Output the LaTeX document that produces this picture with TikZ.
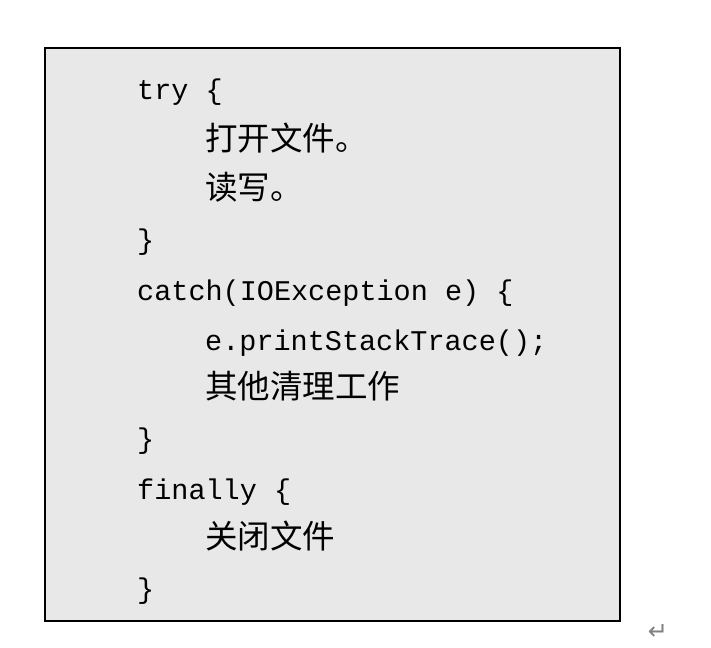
\documentclass[tikz,border=0pt]{standalone}
\usepackage{fontspec}
\setmonofont{Liberation Mono}
\newfontfamily\cjk{Noto Sans CJK SC}
\newfontfamily\dejavu{DejaVu Sans}
\begin{document}
\begin{tikzpicture}[x=1pt,y=-1pt,
  code/.style={anchor=base west,inner sep=0pt,font=\ttfamily\fontsize{28.5}{30}\selectfont},
  cjkt/.style={anchor=base west,inner sep=0pt,font=\cjk\fontsize{32.5}{34}\selectfont}]
\useasboundingbox (0,0) rectangle (711,647);
\draw[fill=black!9,line width=1.5pt] (45,48) rectangle (620,621);
\node[code] (l1) at (137,100) {try \{};
\node[cjkt] (l2) at (205,150) {打开文件。};
\node[cjkt] (l3) at (205,199) {读写。};
\node[code] (l4) at (137,249) {\}};
\node[code] (l5) at (137,300) {catch(IOException e) \{};
\node[code] (l6) at (205,350) {e.printStackTrace();};
\node[cjkt] (l7) at (205,398) {其他清理工作};
\node[code] (l8) at (137,448) {\}};
\node[code] (l9) at (137,499) {finally \{};
\node[cjkt] (l10) at (205,548) {关闭文件};
\node[code] (l11) at (137,598) {\}};
\node[font=\dejavu\fontsize{24}{24}\selectfont,text=gray] (ret) at (658,632) {↵};
\end{tikzpicture}
\end{document}
